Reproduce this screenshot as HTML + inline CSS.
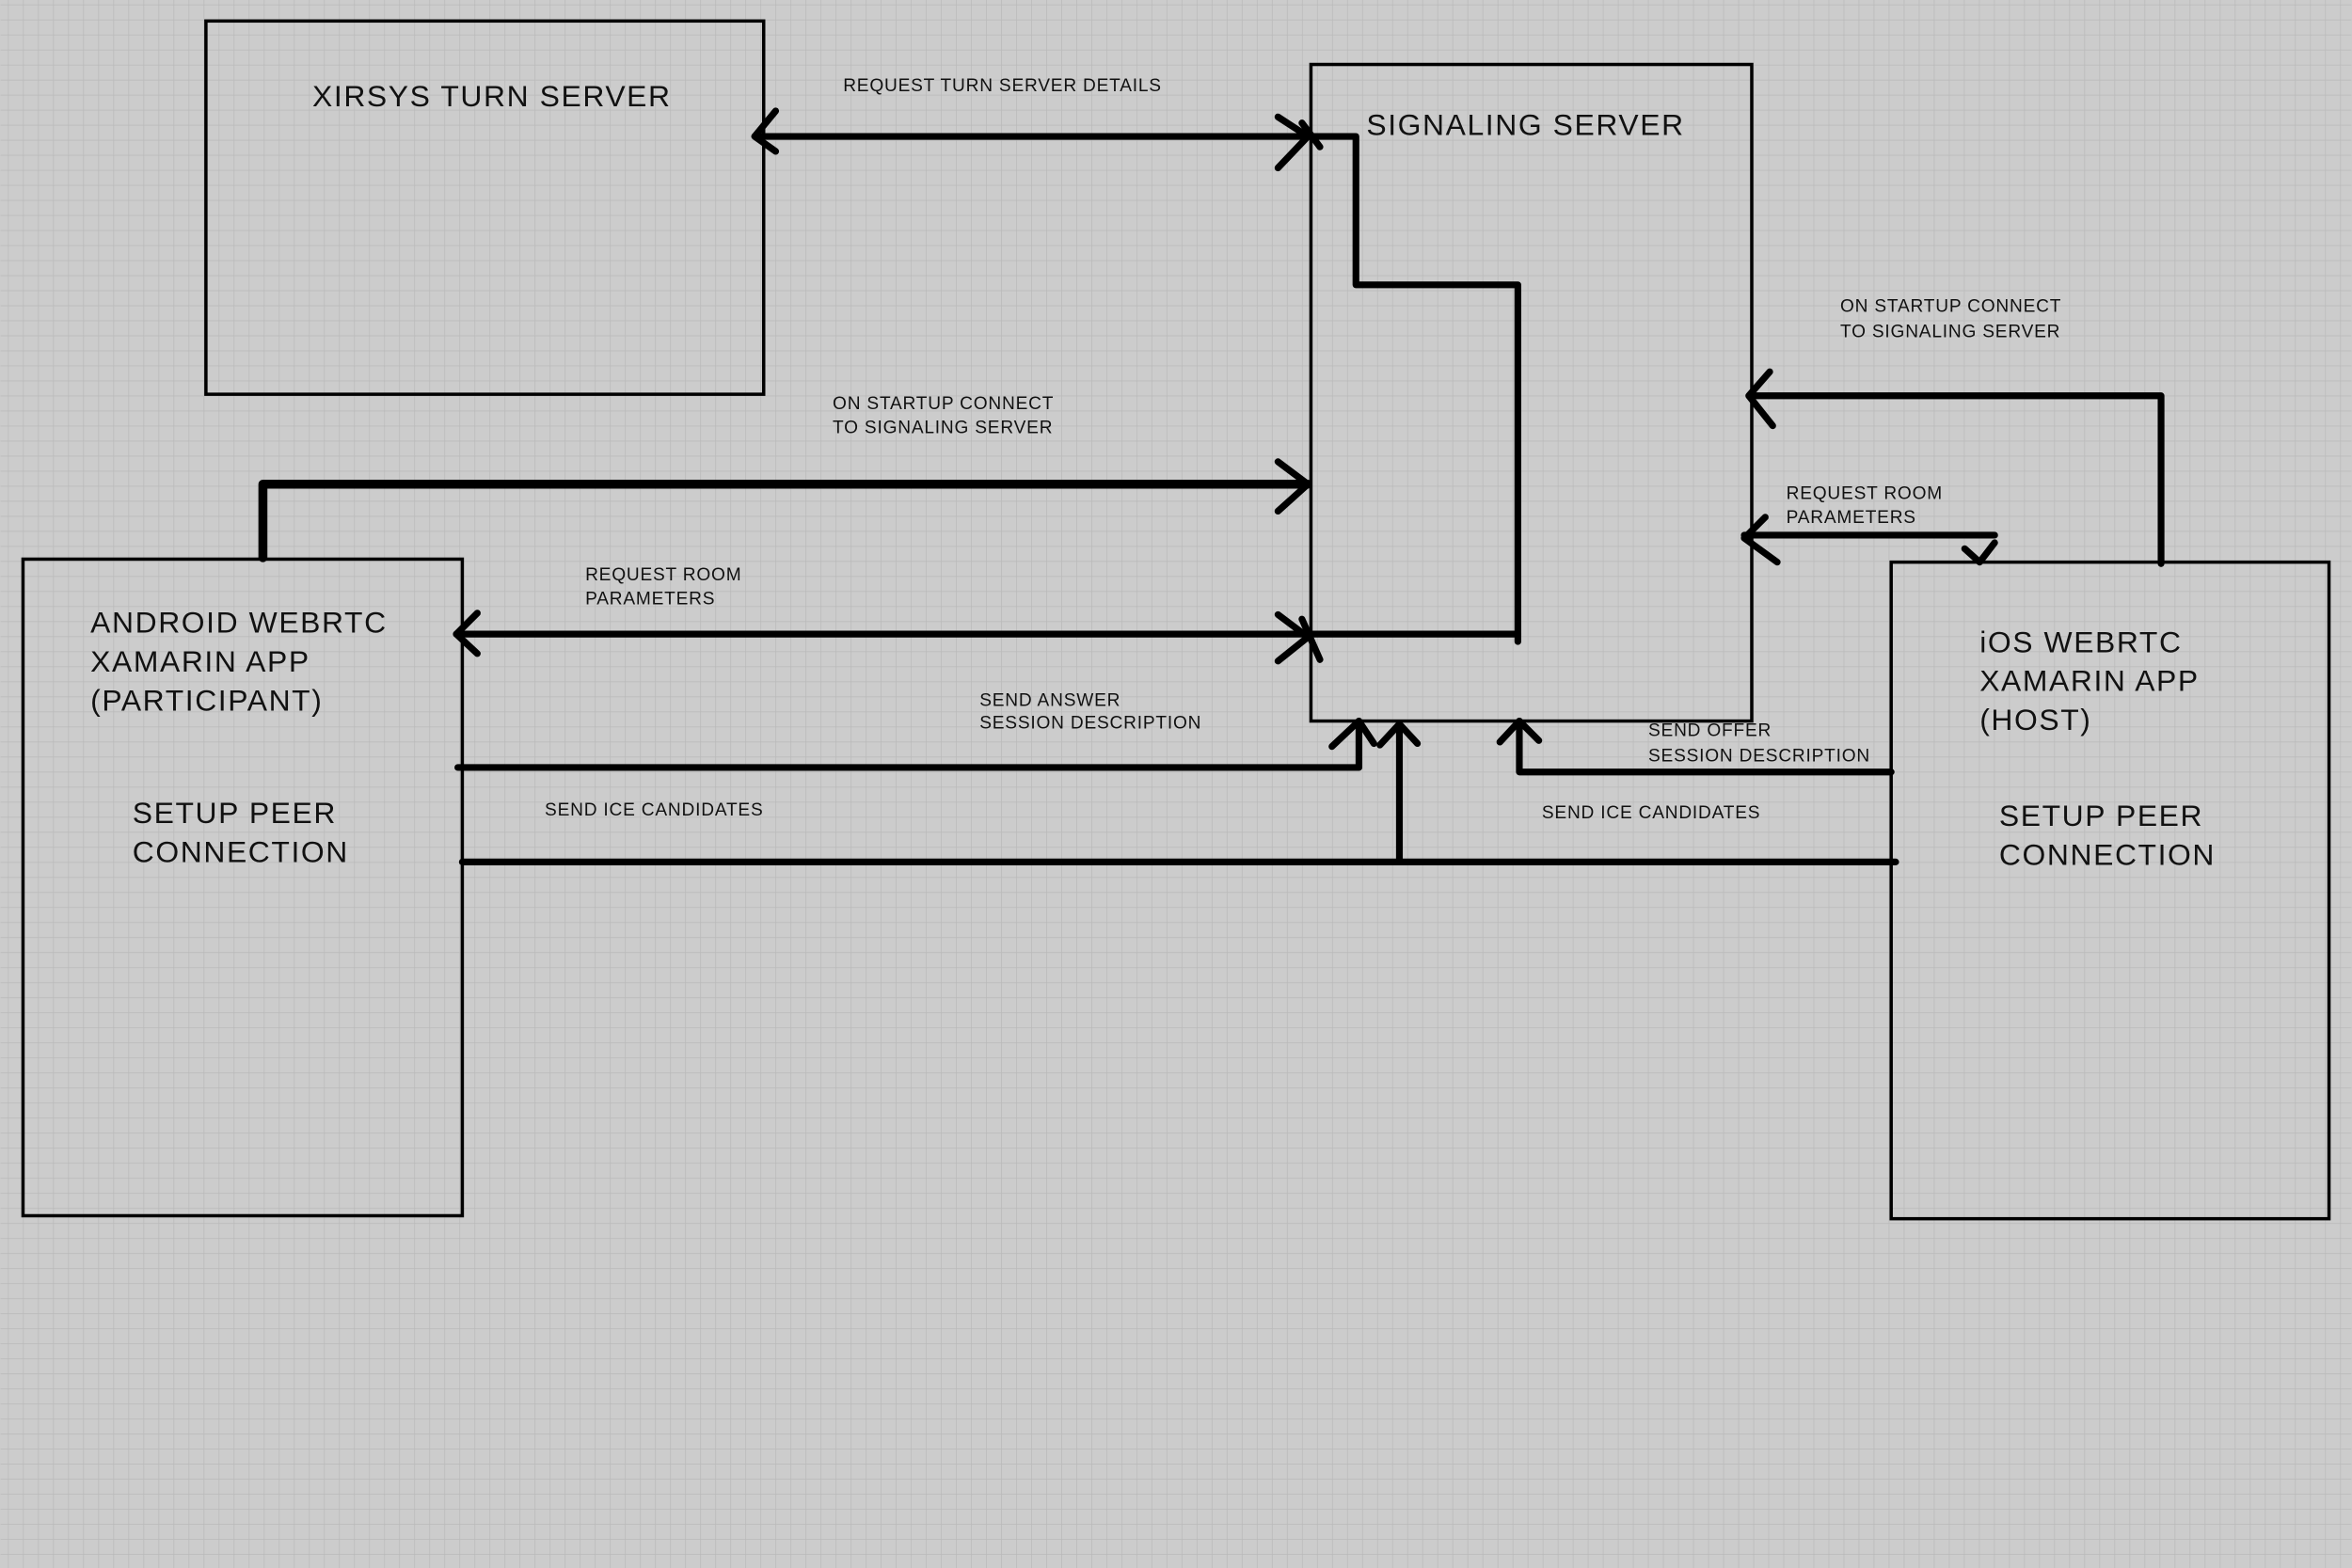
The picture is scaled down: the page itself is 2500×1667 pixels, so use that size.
<!DOCTYPE html>
<html><head><meta charset="utf-8"><style>
html,body{margin:0;padding:0;background:#cccccc;}
svg{display:block;}
text{font-family:"Liberation Sans",sans-serif;fill:#111;}
</style></head><body>
<svg width="2500" height="1667" viewBox="0 0 1568 1046" xmlns="http://www.w3.org/2000/svg">
<defs>
<pattern id="g" width="10.035" height="10.035" patternUnits="userSpaceOnUse" x="5" y="3">
<path d="M0 0H10.035M0 0V10.035" stroke="#b9b9b9" stroke-width="0.9" fill="none"/>
</pattern>
</defs>
<rect width="1568" height="1046" fill="#cccccc"/>
<rect width="1568" height="1046" fill="url(#g)"/>
<g fill="none" stroke="#000" stroke-width="2.2">
<rect x="137" y="14" width="372" height="249"/>
<rect x="874" y="43" width="294" height="438"/>
<rect x="15" y="373" width="293" height="438"/>
<rect x="1261" y="375" width="292" height="438"/>
</g>
<g fill="none" stroke="#000" stroke-width="4.5" stroke-linecap="round" stroke-linejoin="round">
<!-- turn server arrow -->
<path d="M503 91H872"/>
<path d="M517 74L503 91L517 101"/>
<path d="M852 78L872 91L852 112"/>
<path d="M868 82L880 98"/>
<!-- signaling inner loop -->
<path d="M874 91H904V190H1012V428"/>
<!-- android startup -->
<path d="M175 372V323H872" stroke-width="6"/>
<path d="M852 308L872 323L852 341"/>
<!-- request room android -->
<path d="M304 423H1012"/>
<path d="M318 409L304 423L318 436"/>
<path d="M852 410L872 425L852 441"/>
<path d="M868 413L880 440"/>
<!-- send answer -->
<path d="M305 512H906V481"/>
<path d="M888 498L906 481L916 496"/>
<!-- ice -->
<path d="M308 575H1264"/>
<path d="M933 575V483"/>
<path d="M920 497L933 483L945 496"/>
<!-- offer -->
<path d="M1261 515H1013V481"/>
<path d="M1000 495L1013 481L1026 494"/>
<!-- ios startup -->
<path d="M1441 376V264H1168"/>
<path d="M1180 248L1166 264L1182 284"/>
<!-- request room ios -->
<path d="M1163 357H1330"/>
<path d="M1177 345L1163 359L1185 375"/>
<path d="M1310 366L1320 375L1330 362"/>
</g>
<g font-size="20" letter-spacing="1">
<text x="208" y="71">XIRSYS TURN SERVER</text>
<text x="911" y="90">SIGNALING SERVER</text>
<text x="60" y="422">ANDROID WEBRTC</text>
<text x="60" y="448">XAMARIN APP</text>
<text x="60" y="474">(PARTICIPANT)</text>
<text x="88" y="549">SETUP PEER</text>
<text x="88" y="575">CONNECTION</text>
<text x="1320" y="435">iOS WEBRTC</text>
<text x="1320" y="461">XAMARIN APP</text>
<text x="1320" y="487">(HOST)</text>
<text x="1333" y="551">SETUP PEER</text>
<text x="1333" y="577">CONNECTION</text>
</g>
<g font-size="12" letter-spacing="0.5">
<text x="562" y="61">REQUEST TURN SERVER DETAILS</text>
<text x="555" y="273">ON STARTUP CONNECT</text>
<text x="555" y="289">TO SIGNALING SERVER</text>
<text x="390" y="387">REQUEST ROOM</text>
<text x="390" y="403">PARAMETERS</text>
<text x="653" y="471">SEND ANSWER</text>
<text x="653" y="486">SESSION DESCRIPTION</text>
<text x="363" y="544">SEND ICE CANDIDATES</text>
<text x="1227" y="208">ON STARTUP CONNECT</text>
<text x="1227" y="225">TO SIGNALING SERVER</text>
<text x="1191" y="333">REQUEST ROOM</text>
<text x="1191" y="349">PARAMETERS</text>
<text x="1099" y="491">SEND OFFER</text>
<text x="1099" y="508">SESSION DESCRIPTION</text>
<text x="1028" y="546">SEND ICE CANDIDATES</text>
</g>
</svg>
</body></html>
